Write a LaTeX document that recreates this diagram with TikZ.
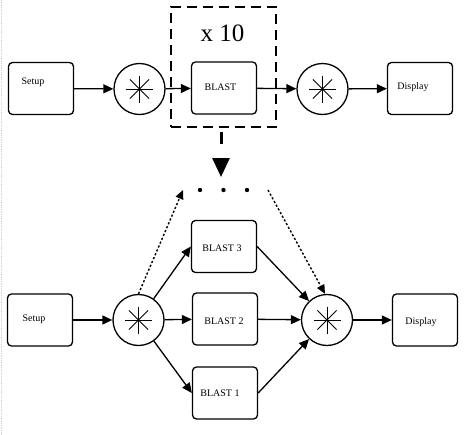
\documentclass[tikz,border=0pt]{standalone}
\usepackage{fontspec}
\setmainfont{Liberation Serif}
\usetikzlibrary{arrows.meta,positioning}

\tikzset{
	blk/.style={rectangle,draw,line width=1.3pt,rounded corners=4pt,minimum width=65pt,minimum height=52pt,font=\fontsize{10.5}{12}\selectfont},
	star/.style={circle,draw,line width=1.3pt,minimum size=51pt,inner sep=0pt,
		path picture={\foreach \a in {0,45,90,135}
			\draw[line width=0.9pt] ([shift={(\a:13.5pt)}]path picture bounding box.center) -- ([shift={(\a+180:13.5pt)}]path picture bounding box.center);}},
	flow/.style={-{Triangle[length=10pt,width=9pt]},line width=1.3pt},
	maybe/.style={-{Triangle[length=9pt,width=8pt]},line width=1.4pt,dash pattern=on 2.2pt off 2pt}
}

\begin{document}
\begin{tikzpicture}[x=1pt,y=-1pt]
	\useasboundingbox (0,0) rectangle (474,434);
	\draw[gray!35,densely dotted,line width=0.8pt] (1,0) -- (1,434);

	% one BLAST run, repeated ten times
	\node[rectangle,draw,dashed,line width=1.3pt,dash pattern=on 10pt off 6pt,minimum width=105pt,minimum height=120pt] (Rep) at (223.5,67) {};
	\node[font=\fontsize{25}{28}\selectfont] (Times) at (222.5,33.5) {x 10};

	\node[blk,label={[xshift=-8pt,yshift=6.5pt]center:Setup}] (SetupA) at (41,88.5) {};
	\node[star] (SplitA) at (139.5,89) {};
	\node[blk,label={[xshift=-3.5pt,yshift=1pt]center:BLAST}] (Blast) at (224,88) {};
	\node[star] (JoinA) at (322.5,89) {};
	\node[blk,label={[xshift=-7pt,yshift=1.5pt]center:Display}] (DisplayA) at (420,88.5) {};

	\draw[flow] (SetupA) -- (SplitA);
	\draw[flow] (SplitA) -- (Blast);
	\draw[flow] (Blast) -- (JoinA);
	\draw[flow] (JoinA) -- (DisplayA);

	% unrolled into parallel runs
	\coordinate (Down) at (221,177);
	\draw[-{Triangle[length=19pt,width=17pt]},line width=3pt,dash pattern=on 12pt off 14pt] ([xshift=-2.5pt,yshift=-4pt]Rep.south) -- (Down);
	\foreach \x in {200,223.5,247} \fill (\x,190) circle (2.2pt);
	\coordinate (DotsL) at (183,190);
	\coordinate (DotsR) at (268,190);

	\node[blk,label={[xshift=-6pt,yshift=1pt]center:Setup}] (SetupB) at (40,320) {};
	\node[star] (SplitB) at (138.5,320) {};
	\node[blk,label={[xshift=-2pt,yshift=-1.5pt]center:BLAST 3}] (Blast3) at (224,246.5) {};
	\node[blk,label={[xshift=-1pt,yshift=-2pt]center:BLAST 2}] (Blast2) at (225,319) {};
	\node[blk,label={[xshift=-5pt]center:BLAST 1}] (Blast1) at (225,393) {};
	\node[star] (JoinB) at (327,320) {};
	\node[blk,label={[xshift=-4pt,yshift=-2pt]center:Display}] (DisplayB) at (425,320) {};

	\draw[flow] (SetupB) -- (SplitB);
	\draw[flow] (SplitB) -- (Blast3.west);
	\draw[flow] (SplitB) -- (Blast2);
	\draw[flow] (SplitB) -- (Blast1.west);
	\draw[flow] (Blast3.east) -- (JoinB);
	\draw[flow] (Blast2) -- (JoinB);
	\draw[flow] (Blast1.east) -- (JoinB);
	\draw[flow] (JoinB) -- (DisplayB);
	\draw[maybe] (SplitB.north) -- (DotsL);
	\draw[maybe] (DotsR) -- ([xshift=-2pt]JoinB.north);
\end{tikzpicture}
\end{document}
